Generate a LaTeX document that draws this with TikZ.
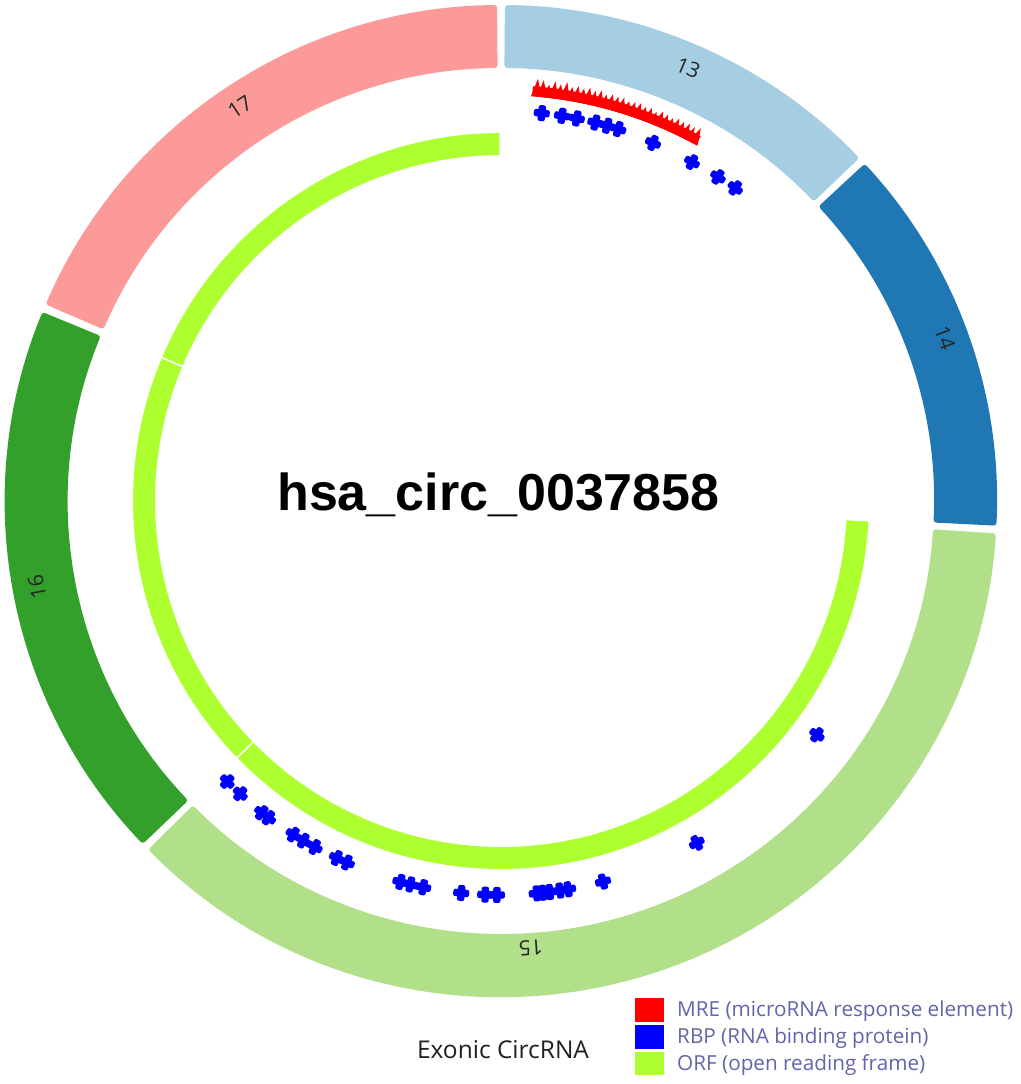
\documentclass[tikz,border=0pt]{standalone}
\usepackage{fontspec}
\setmainfont{Open Sans}
\newfontfamily\titlefont{Liberation Sans}
\definecolor{cxiii}{HTML}{A6CEE3}
\definecolor{cxiv}{HTML}{1F78B4}
\definecolor{cxv}{HTML}{B2DF8A}
\definecolor{cxvi}{HTML}{33A02C}
\definecolor{cxvii}{HTML}{FB9A99}
\definecolor{orfc}{HTML}{ADFF2F}
\definecolor{mrec}{HTML}{FF0000}
\definecolor{rbpc}{HTML}{0000FF}
\definecolor{legc}{RGB}{100,100,170}
\newcommand\annseg[5]{\fill[#1] ([shift={(501,-501)}]#2:#5) arc[start angle=#2,end angle=#3,radius=#5] -- ([shift={(501,-501)}]#3:#4) arc[start angle=#3,end angle=#2,radius=#4] -- cycle;}
\tikzset{
  segstyle/.style={rounded corners=3pt},
  exlabel/.style={font=\fontsize{21}{21}\selectfont, text=black!85, inner sep=0pt},
  legtxt/.style={font=\fontsize{20.7}{20.7}\selectfont, text=legc, inner sep=0pt, anchor=base west},
  rbp/.pic={\fill[rbpc, rounded corners=2.2pt] (-8,-3.7) rectangle (8,3.7);
            \fill[rbpc, rounded corners=2.2pt] (-3.7,-8) rectangle (3.7,8);}
}
\begin{document}
\begin{tikzpicture}[x=1pt,y=1pt]
\useasboundingbox (0,0) rectangle (1020,-1084);
\fill[white] (0,0) rectangle (1020,-1084);
\coordinate (C) at (501,-501);
% outer exon ring
\annseg{cxiii,segstyle}{43.75}{89.55}{433}{496}
\annseg{cxiv,segstyle}{-2.85}{42.85}{433}{496}
\annseg{cxv,segstyle}{-135.35}{-3.75}{433}{496}
\annseg{cxvi,segstyle}{157.6}{223.75}{433}{496}
\annseg{cxvii,segstyle}{90.45}{156.65}{433}{496}
% exon labels
\node[exlabel, rotate=-23.4] (e13) at (688,-68) {13};
\node[exlabel, rotate=-70] (e14) at (945,-338) {14};
\node[exlabel, rotate=-176] (e15) at (531,-948) {15};
\node[exlabel, rotate=100.5] (e16) at (37,-587) {16};
\node[exlabel, rotate=33.5] (e17) at (240,-107) {17};
% ORF ring
\annseg{orfc}{90.25}{156.95}{346}{368}
\annseg{orfc}{157.25}{224.05}{346}{368}
\annseg{orfc}{224.35}{356.8}{346}{368}
% MRE band
\fill[mrec] ([shift={(501,-501)}]61.3:406) arc[start angle=61.3,end angle=85.6,radius=406] -- ([shift={(501,-501)}]85.6:416) arc[start angle=85.6,end angle=61.3,radius=416] -- cycle;
\foreach \a/\h in {85.0/18,84.2/17,83.4/13,82.6/17,81.8/15,81.0/18,80.2/14,79.4/16,78.6/15,77.8/17,77.0/15,76.2/17,75.4/14,74.6/16,73.8/15,73.0/16,72.2/14,71.4/15,70.6/16,69.8/14,69.0/15,68.2/13,67.4/16,66.6/15,65.8/14,65.0/16,64.2/15,63.4/16,62.6/15,61.8/17}
  \fill[mrec] ([shift={(501,-501)}]{\a+0.75}:406) -- ([shift={(501,-501)}]{\a}:{406+\h}) -- ([shift={(501,-501)}]{\a-0.75}:406) -- cycle;
% RBP markers
\foreach \a/\r in {84.0/390,81.0/390,78.8/390,76.0/390,74.2/390,72.5/390,67.0/389,60.6/389,56.2/390,53.2/391,
  225.7/392,228.3/392,232.5/393,233.7/393,238.1/393,239.8/393,241.7/393,245.3/393,246.9/393,
  255.2/394,256.7/394,258.6/394,264.2/394,267.7/394,269.4/394,275.2/394,276.1/394,277.1/394,278.6/394,279.8/394,285.0/394,299.8/394,323.5/393}
  \pic[rotate=\a] at ([shift={(501,-501)}]\a:\r) {rbp};
% title
\node[font=\titlefont\bfseries\fontsize{52}{52}\selectfont, anchor=base, inner sep=0pt] (title) at (498.5,-510) {hsa\_circ\_0037858};
% legend
\fill[mrec] (635,-998) rectangle (664,-1022);
\fill[rbpc] (635,-1025) rectangle (664,-1049);
\fill[orfc] (635,-1052) rectangle (664,-1075);
\node[legtxt] (l1) at (677,-1016) {MRE (microRNA response element)};
\node[legtxt] (l2) at (677,-1043) {RBP (RNA binding protein)};
\node[legtxt] (l3) at (677,-1070) {ORF (open reading frame)};
\node[font=\fontsize{24.5}{24.5}\selectfont, text=black!87, anchor=base, inner sep=0pt] (cap) at (503,-1058) {Exonic CircRNA};
\end{tikzpicture}
\end{document}
